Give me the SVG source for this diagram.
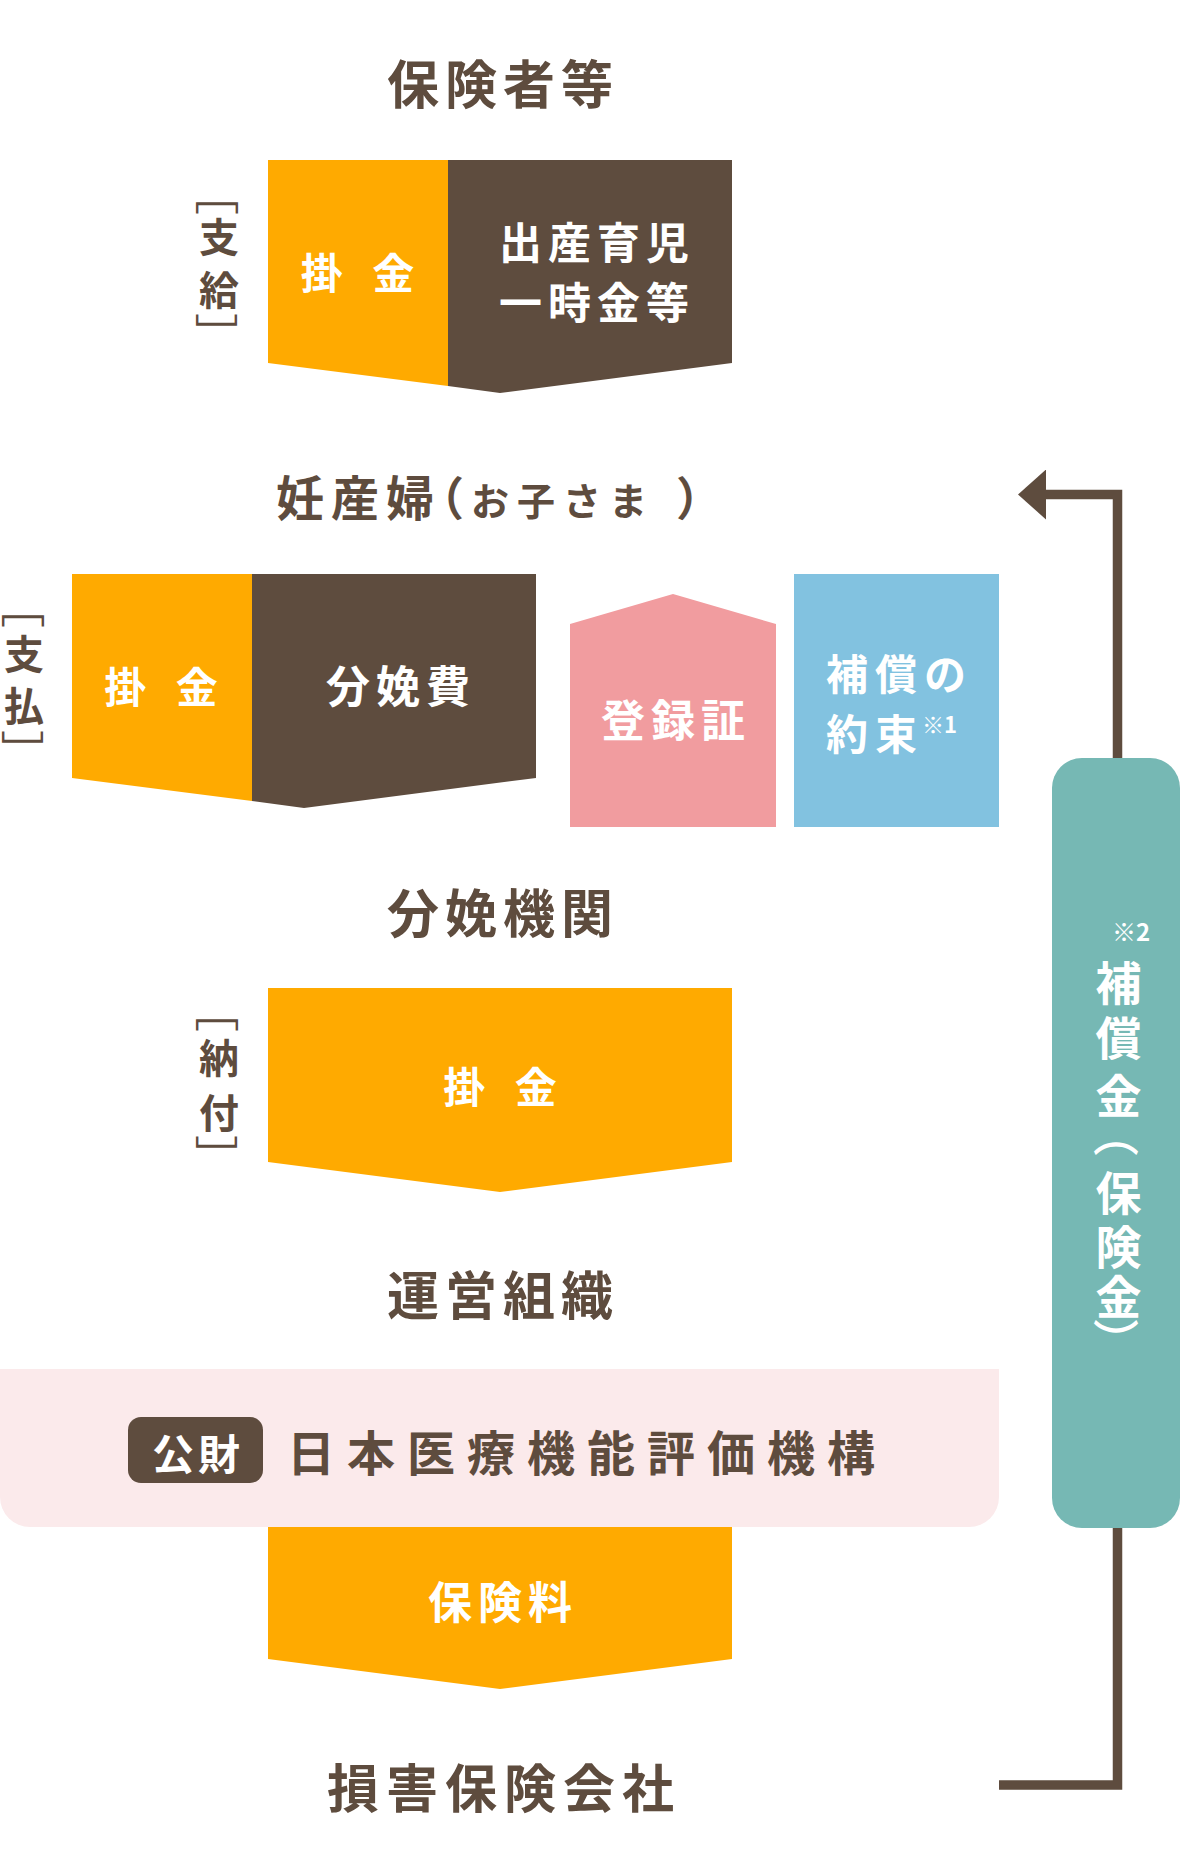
<svg xmlns="http://www.w3.org/2000/svg" width="1180" height="1874" viewBox="0 0 1180 1874">
<defs>
<style>
.t{font-family:"Noto Sans CJK JP","Noto Sans",sans-serif;font-weight:700;fill:#5E4C3E;dominant-baseline:central}
.w{fill:#FFFFFF}
.h{font-size:52px;letter-spacing:6px;text-anchor:middle}
.l{font-size:43px;letter-spacing:6px;text-anchor:middle}
.v{font-size:40px;text-anchor:middle}
.bk{font-family:"Noto Sans CJK JP","Noto Sans",sans-serif;font-weight:400;font-size:44px;fill:#5E4C3E;dominant-baseline:central;text-anchor:middle}
.pv{font-family:"Noto Sans CJK JP","Noto Sans",sans-serif;font-weight:500;font-size:46px;fill:#FFFFFF;dominant-baseline:central;text-anchor:middle}
.or{fill:#FFAA00}
.br{fill:#5E4C3E}
</style>
<marker id="ah" viewBox="0 0 28 50" refX="0" refY="25" markerWidth="28" markerHeight="50" markerUnits="userSpaceOnUse" orient="auto">
<path d="M0,0 L28,25 L0,50 Z" fill="#5E4C3E"/>
</marker>
</defs>
<rect width="1180" height="1874" fill="#FFFFFF"/>

<g id="connectors">
<path d="M999,1785 H1117.5 V494.5 H1046" fill="none" stroke="#5E4C3E" stroke-width="9.5" marker-end="url(#ah)"/>
</g>

<g id="hokensha">
<text class="t h" x="503" y="81.5">保険者等</text>
</g>

<g id="flow1">
<polygon class="or" points="268,160 448,160 448,386 268,363"/>
<polygon class="br" points="448,160 732,160 732,363 500,393 448,386"/>
<text class="t w" x="362.5" y="270" font-size="42" letter-spacing="10" text-anchor="middle">掛 金</text>
<text class="t w l" x="597" y="240">出産育児</text>
<text class="t w l" x="597" y="300">一時金等</text>
<text class="bk" x="219" y="193" transform="rotate(90 219 193)">［</text>
<text class="t v" x="219" y="235">支</text>
<text class="t v" x="219" y="288">給</text>
<text class="bk" x="219" y="335" transform="rotate(90 219 335)">］</text>
</g>

<g id="ninpu">
<text class="t" x="276" y="495" font-size="48" letter-spacing="7">妊産婦<tspan x="418" font-size="46" letter-spacing="0">（</tspan><tspan x="471" y="498" font-size="38" letter-spacing="8">お子さま</tspan><tspan x="676" y="495" font-size="46" letter-spacing="0">）</tspan></text>
</g>

<g id="flow2">
<polygon class="or" points="72,574 252,574 252,801 72,778"/>
<polygon class="br" points="252,574 536,574 536,778 304,808 252,801"/>
<text class="t w" x="166" y="684" font-size="42" letter-spacing="10" text-anchor="middle">掛 金</text>
<text class="t w" x="401" y="684" font-size="44" letter-spacing="6" text-anchor="middle">分娩費</text>
<text class="bk" x="25" y="606" font-size="40" transform="rotate(90 25 606)">［</text>
<text class="t v" x="24" y="652">支</text>
<text class="t v" x="24" y="704">払</text>
<text class="bk" x="25" y="752" font-size="40" transform="rotate(90 25 752)">］</text>
</g>

<g id="tourokusho">
<polygon fill="#F19C9F" points="570,624 673,594 776,624 776,827 570,827"/>
<text class="t w" x="676" y="718" font-size="44" letter-spacing="6" text-anchor="middle">登録証</text>
</g>

<g id="yakusoku">
<rect x="794" y="574" width="205" height="253" fill="#82C2E0"/>
<text class="t w" x="826" y="671" font-size="42" letter-spacing="7">補償の</text>
<text class="t w" x="826" y="731" font-size="42" letter-spacing="7">約束</text>
<text class="t w" x="922" y="723" font-size="22">※1</text>
</g>

<g id="bunben">
<text class="t h" x="503" y="910">分娩機関</text>
</g>

<g id="flow3">
<polygon class="or" points="268,988 732,988 732,1162 500,1192 268,1162"/>
<text class="t w" x="505" y="1084" font-size="42" letter-spacing="10" text-anchor="middle">掛 金</text>
<text class="bk" x="219" y="1010" transform="rotate(90 219 1010)">［</text>
<text class="t v" x="219" y="1056">納</text>
<text class="t v" x="219" y="1111">付</text>
<text class="bk" x="219" y="1157" transform="rotate(90 219 1157)">］</text>
</g>

<g id="unei">
<text class="t h" x="503" y="1292">運営組織</text>
</g>

<g id="flow4">
<polygon class="or" points="268,1520 732,1520 732,1659 500,1689 268,1659"/>
<text class="t w" x="503" y="1600" font-size="44" letter-spacing="6" text-anchor="middle">保険料</text>
</g>

<g id="jcqhc">
<path d="M0,1369 H999 V1497 A30,30 0 0 1 969,1527 H30 A30,30 0 0 1 0,1497 Z" fill="#FBEAEB"/>
<rect x="128" y="1417" width="135" height="66" rx="13" fill="#5E4C3E"/>
<text class="t w" x="198" y="1451" font-size="42" letter-spacing="4" text-anchor="middle">公財</text>
<text class="t" x="287" y="1450" font-size="48" letter-spacing="12">日本医療機能評価機構</text>
</g>

<g id="sonpo">
<text class="t" x="504" y="1785" font-size="52" letter-spacing="7" text-anchor="middle">損害保険会社</text>
</g>

<g id="hoshoukin">
<rect x="1052" y="758" width="128" height="770" rx="30" fill="#76B8B4"/>
<text class="t w" x="1112" y="930" font-size="24">※2</text>
<text class="t w" x="1118.5" y="979.5" font-size="46" text-anchor="middle">補</text>
<text class="t w" x="1118.5" y="1035" font-size="46" text-anchor="middle">償</text>
<text class="t w" x="1118.5" y="1092.5" font-size="46" text-anchor="middle">金</text>
<text class="pv" x="1118.5" y="1134" transform="rotate(90 1118.5 1134)">（</text>
<text class="t w" x="1118.5" y="1189.5" font-size="46" text-anchor="middle">保</text>
<text class="t w" x="1118.5" y="1243.5" font-size="46" text-anchor="middle">険</text>
<text class="t w" x="1118.5" y="1294" font-size="46" text-anchor="middle">金</text>
<text class="pv" x="1118.5" y="1341" transform="rotate(90 1118.5 1341)">）</text>
</g>
</svg>
